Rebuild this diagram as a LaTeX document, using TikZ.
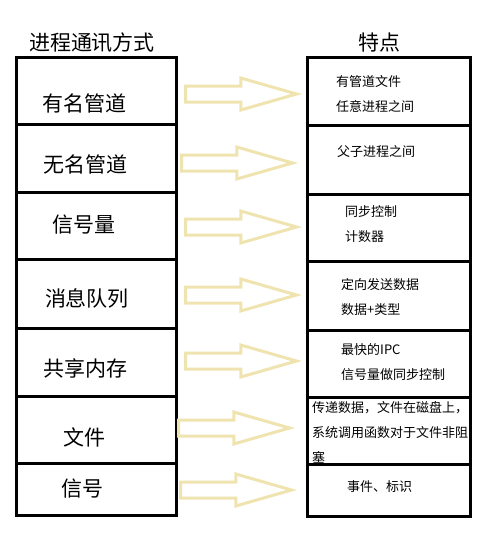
\documentclass[tikz,border=0pt]{standalone}
\usepackage{fontspec}
\newfontfamily\cjk{Noto Sans CJK SC}
\usepackage{xcolor}
\usepackage{tikz}
\usetikzlibrary{arrows.meta, positioning, shapes.arrows}
\definecolor{arrowwheat}{RGB}{239,227,176}

\begin{document}
\begin{tikzpicture}[x=1pt, y=-1pt,
    box/.style={draw, rectangle, line width=3pt, inner sep=0pt},
    bigtext/.style={font={\cjk\fontsize{21}{25}\selectfont}, inner sep=0pt},
    smalltext/.style={font={\cjk\fontsize{13}{25}\selectfont}, align=left, anchor=west, inner sep=0pt},
    fatarrow/.style={single arrow, draw=arrowwheat, line width=3pt, anchor=tip,
        minimum width=30pt, minimum height=111pt, single arrow head extend=8pt,
        single arrow tip angle=32, inner xsep=0pt, inner ysep=6.5pt}]
    \useasboundingbox (0,0) rectangle (485,533);

    % headers
    \node[bigtext] (head1) at (92, 43) {进程通讯方式};
    \node[bigtext] (head2) at (379, 43) {特点};

    % left column
    \node[box, minimum width=160pt, minimum height=67pt] (m1) at (96, 90.5) {};
    \node[box, minimum width=160pt, minimum height=68pt] (m2) at (96, 158) {};
    \node[box, minimum width=160pt, minimum height=67pt] (m3) at (96, 225.5) {};
    \node[box, minimum width=160pt, minimum height=69pt] (m4) at (96, 293.5) {};
    \node[box, minimum width=160pt, minimum height=68pt] (m5) at (96, 362) {};
    \node[box, minimum width=160pt, minimum height=67pt] (m6) at (96, 429.5) {};
    \node[box, minimum width=160pt, minimum height=52pt] (m7) at (96, 489) {};

    \node[bigtext] (lbl1) at (84, 103) {有名管道};
    \node[bigtext] (lbl2) at (85, 164) {无名管道};
    \node[bigtext] (lbl3) at (84, 225) {信号量};
    \node[bigtext] (lbl4) at (87, 298) {消息队列};
    \node[bigtext] (lbl5) at (85, 368) {共享内存};
    \node[bigtext] (lbl6) at (84, 437) {文件};
    \node[bigtext] (lbl7) at (82, 489) {信号};

    % right column
    \node[box, minimum width=163pt, minimum height=68pt] (f1) at (388.5, 91) {};
    \node[box, minimum width=163pt, minimum height=69pt] (f2) at (388.5, 159.5) {};
    \node[box, minimum width=163pt, minimum height=67pt] (f3) at (388.5, 227.5) {};
    \node[box, minimum width=163pt, minimum height=69pt] (f4) at (388.5, 295.5) {};
    \node[box, minimum width=163pt, minimum height=67pt] (f5) at (388.5, 363.5) {};
    \node[box, minimum width=163pt, minimum height=67pt] (f6) at (388.5, 430.5) {};
    \node[box, minimum width=163pt, minimum height=52pt] (f7) at (388.5, 490) {};

    \node[smalltext] (t1) at (336, 94.5) {有管道文件\\任意进程之间};
    \node[smalltext] (t2) at (337, 152) {父子进程之间};
    \node[smalltext] (t3) at (345, 224.5) {同步控制\\计数器};
    \node[smalltext] (t4) at (341, 297.5) {定向发送数据\\数据+类型};
    \node[smalltext] (t5) at (341, 362.5) {最快的IPC\\信号量做同步控制};
    \node[smalltext] (t6) at (312, 432) {传递数据，文件在磁盘上，\\系统调用函数对于文件非阻\\塞};
    \node[smalltext] (t7) at (347, 487) {事件、标识};

    % arrows
    \node[fatarrow] (a1) at (302, 94) {};
    \node[fatarrow] (a2) at (298, 163) {};
    \node[fatarrow] (a3) at (302, 227) {};
    \node[fatarrow] (a4) at (302, 295) {};
    \node[fatarrow] (a5) at (302, 361) {};
    \node[fatarrow] (a6) at (295, 428) {};
    \node[fatarrow] (a7) at (297, 490) {};
\end{tikzpicture}
\end{document}
